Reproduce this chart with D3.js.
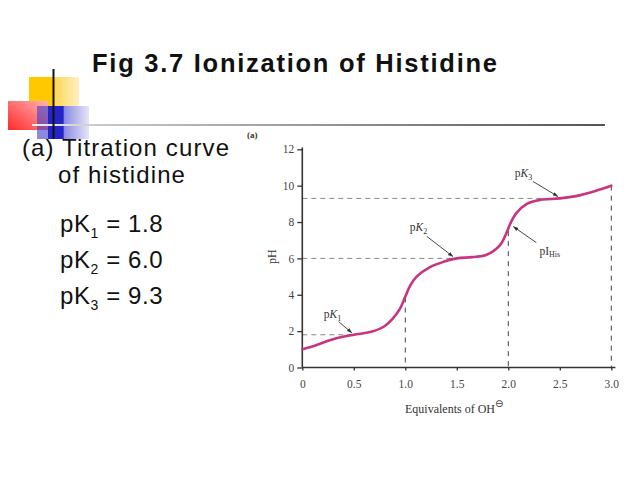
<!DOCTYPE html>
<html><head><meta charset="utf-8">
<script src="https://cdn.jsdelivr.net/npm/d3@7"></script>
<style>
html,body{margin:0;padding:0;background:#fff;}
svg{display:block;}
</style></head>
<body>
<svg id="chart" width="638" height="479"></svg>
<script>
// ---- data ----
const equivalentsOH = [0, 0.14, 0.3, 0.5, 0.66, 0.79, 0.88, 0.95, 1.0, 1.05, 1.11, 1.24, 1.37, 1.5, 1.65, 1.79, 1.92, 1.98, 2.02, 2.08, 2.18, 2.31, 2.5, 2.7, 2.89, 3.0];
const pHValues     = [1.0, 1.24, 1.56, 1.8, 1.95, 2.24, 2.7, 3.25, 3.9, 4.53, 5.0, 5.52, 5.81, 6.0, 6.07, 6.2, 6.73, 7.37, 7.92, 8.5, 9.0, 9.22, 9.3, 9.48, 9.79, 10.0];
const xTickValues = [0, 0.5, 1.0, 1.5, 2.0, 2.5, 3.0];
const xTickLabels = ["0", "0.5", "1.0", "1.5", "2.0", "2.5", "3.0"];
const yTickValues = [0, 2, 4, 6, 8, 10, 12];
const yTickLabels = ["0", "2", "4", "6", "8", "10", "12"];
const pKNames = ["1", "2", "3"];
const pKValues = [1.8, 6.0, 9.3];
const pKEquivalents = [0.5, 1.5, 2.5];
const endpointEquivalents = [1.0, 2.0, 3.0];
const endpointPH = [3.85, 7.5, 10.0];
const pIEquivalent = 2.03;
const pIpH = 7.8;
const titleText = "Fig 3.7 Ionization of Histidine";
const sideLines = ["(a) Titration curve", "of histidine"];

const svg = d3.select("#chart");
const defs = svg.append("defs");

// ---- decoration ----
function grad(id, stops, x2, y2, x1, y1) {
  const g = defs.append("linearGradient").attr("id", id)
    .attr("x1", x1 || "0%").attr("y1", y1 || "0%").attr("x2", x2).attr("y2", y2);
  stops.forEach(s => g.append("stop").attr("offset", s[0]).attr("stop-color", s[1]).attr("stop-opacity", s[2] == null ? 1 : s[2]));
}
grad("gYellow", [["0%", "#FFC800"], ["48%", "#FFC800"], ["52%", "#FFD75A"], ["100%", "#FFF0C0"]], "100%", "0%");
grad("gRed", [["0%", "#FF2A2A"], ["100%", "#FFB4B4"]], "100%", "0%", "0%", "100%");
grad("gBlue", [["0%", "#3C3CD0", 0.6], ["21%", "#3C3CD0", 0.6], ["22%", "#2424C8"], ["50%", "#2424C8"], ["53%", "#8C8CE2"], ["100%", "#E6E6F8"]], "100%", "0%");
grad("gRule", [["0%", "#EEEEEE"], ["12%", "#C8C8C8"], ["100%", "#555555"]], "100%", "0%");

svg.append("rect").attr("x", 29).attr("y", 77).attr("width", 50).attr("height", 30).attr("fill", "url(#gYellow)");
svg.append("rect").attr("x", 8).attr("y", 101).attr("width", 40).attr("height", 29).attr("fill", "url(#gRed)");
svg.append("rect").attr("x", 37).attr("y", 106).attr("width", 52).attr("height", 33).attr("fill", "url(#gBlue)");
svg.append("rect").attr("x", 32).attr("y", 124).attr("width", 573).attr("height", 2).attr("fill", "url(#gRule)");
svg.append("line").attr("x1", 53.5).attr("x2", 53.5).attr("y1", 69).attr("y2", 139).attr("stroke", "#111").attr("stroke-width", 2);

// ---- title & side text ----
const sans = "Liberation Sans, Arial, sans-serif";
function fitSpacing(sel, target) {
  const w = sel.node().getComputedTextLength();
  const n = sel.text().length;
  sel.attr("letter-spacing", ((target - w) / (n - 1)).toFixed(2));
}
const title = svg.append("text").attr("x", 92).attr("y", 72)
  .attr("font-family", sans).attr("font-weight", "bold").attr("font-size", 25.5)
  .attr("fill", "#111").text(titleText);
fitSpacing(title, 405);

const l1 = svg.append("text").attr("x", 22).attr("y", 156).attr("font-family", sans).attr("font-size", 24).attr("fill", "#111").text(sideLines[0]);
fitSpacing(l1, 207);
const l2 = svg.append("text").attr("x", 58).attr("y", 183).attr("font-family", sans).attr("font-size", 24).attr("fill", "#111").text(sideLines[1]);
fitSpacing(l2, 127);
pKNames.forEach((n, i) => {
  const t = svg.append("text").attr("x", 60).attr("y", 232 + i * 36).attr("font-family", sans).attr("font-size", 24)
    .attr("letter-spacing", 0.6).attr("fill", "#111");
  t.append("tspan").text("pK");
  t.append("tspan").attr("font-size", 14).attr("dy", 6).text(n);
  t.append("tspan").attr("dy", -6).text(" = " + pKValues[i].toFixed(1));
});

// ---- chart ----
const serif = "Liberation Serif, Times New Roman, serif";
const x = d3.scaleLinear().domain([0, 3]).range([302.3, 611.3]);
const y = d3.scaleLinear().domain([0, 12]).range([367.5, 149.3]);
const g = svg.append("g");

// dashed guides
const dashG = g.append("g").attr("fill", "none");
pKValues.forEach((v, i) => {
  dashG.append("line").attr("x1", x(0)).attr("x2", x(pKEquivalents[i])).attr("y1", y(v)).attr("y2", y(v))
    .attr("stroke", "#888").attr("stroke-width", 1).attr("stroke-dasharray", "5,4");
});
endpointEquivalents.forEach((e, i) => {
  dashG.append("line").attr("x1", x(e)).attr("x2", x(e)).attr("y1", y(endpointPH[i])).attr("y2", y(0))
    .attr("stroke", "#444").attr("stroke-width", 1).attr("stroke-dasharray", "5,5");
});

// axes
const xAxis = d3.axisBottom(x).tickValues(xTickValues).tickFormat((d, i) => xTickLabels[i]).tickSize(3).tickSizeOuter(0).tickPadding(9);
const yAxis = d3.axisLeft(y).tickValues(yTickValues).tickFormat((d, i) => yTickLabels[i]).tickSize(5).tickSizeOuter(0).tickPadding(3);
const gx = g.append("g").attr("transform", `translate(0,${y(0)})`).call(xAxis);
const gy = g.append("g").attr("transform", `translate(${x(0)},0)`).call(yAxis);
[gx, gy].forEach(a => {
  a.select(".domain").remove();
  a.selectAll(".tick line").attr("stroke", "#333").attr("stroke-width", 1.3);
  a.selectAll(".tick text").attr("font-family", serif).attr("font-size", 11.5).attr("fill", "#444");
});
g.append("line").attr("x1", x(0)).attr("x2", x(3.04)).attr("y1", y(0)).attr("y2", y(0)).attr("stroke", "#333").attr("stroke-width", 1.6);
g.append("line").attr("x1", x(0)).attr("x2", x(0)).attr("y1", y(12.1)).attr("y2", y(0)).attr("stroke", "#333").attr("stroke-width", 1.6);

// curve
const pts = equivalentsOH.map((e, i) => [e, pHValues[i]]);
g.append("path").datum(pts)
  .attr("d", d3.line().x(d => x(d[0])).y(d => y(d[1])).curve(d3.curveCatmullRom.alpha(0.5)))
  .attr("fill", "none").attr("stroke", "#C8347F").attr("stroke-width", 2.6).attr("stroke-linecap", "round");

// axis labels
svg.append("text").attr("x", 247).attr("y", 138).attr("font-family", serif).attr("font-weight", "bold").attr("font-size", 9).attr("fill", "#333").text("(a)");
svg.append("text").attr("transform", `translate(276,${y(6.1)}) rotate(-90)`).attr("text-anchor", "middle")
  .attr("font-family", serif).attr("font-size", 12).attr("fill", "#333").text("pH");
const xt = svg.append("text").attr("x", 405).attr("y", 413).attr("font-family", serif).attr("font-size", 12).attr("fill", "#333");
xt.append("tspan").text("Equivalents of OH");
xt.append("tspan").attr("font-family", "DejaVu Sans, sans-serif").attr("font-size", 10).attr("dy", -6).text("\u2296");

// annotations
defs.append("marker").attr("id", "arr").attr("viewBox", "0 0 10 10").attr("refX", 9).attr("refY", 5)
  .attr("markerWidth", 6).attr("markerHeight", 6).attr("orient", "auto")
  .append("path").attr("d", "M0,1.5 L10,5 L0,8.5 Z").attr("fill", "#333");

function pkLabel(px, py, sub) {
  const t = svg.append("text").attr("x", px).attr("y", py).attr("font-family", serif).attr("font-size", 11.5).attr("fill", "#333");
  t.append("tspan").text("p");
  t.append("tspan").attr("font-style", "italic").text("K");
  t.append("tspan").attr("font-size", 8).attr("dy", 3).text(sub);
}
function arrow(x1, y1, tx, ty) {
  svg.append("line").attr("x1", x1).attr("y1", y1).attr("x2", tx).attr("y2", ty)
    .attr("stroke", "#333").attr("stroke-width", 0.9).attr("marker-end", "url(#arr)");
}
// pK1
pkLabel(x(pKEquivalents[0]) - 30, y(pKValues[0]) - 17, pKNames[0]);
arrow(x(pKEquivalents[0]) - 15, y(pKValues[0]) - 13, x(pKEquivalents[0]) - 2, y(pKValues[0]) - 2);
// pK2
pkLabel(x(pKEquivalents[1]) - 47, y(pKValues[1]) - 27, pKNames[1]);
arrow(x(pKEquivalents[1]) - 30, y(pKValues[1]) - 22, x(pKEquivalents[1]) - 4, y(pKValues[1]) - 2);
// pK3
pkLabel(x(pKEquivalents[2]) - 45, y(pKValues[2]) - 21, pKNames[2]);
arrow(x(pKEquivalents[2]) - 27, y(pKValues[2]) - 17, x(pKEquivalents[2]) - 2, y(pKValues[2]) - 2);
// pI
const pit = svg.append("text").attr("x", x(pIEquivalent) + 28).attr("y", y(pIpH) + 29).attr("font-family", serif).attr("font-size", 11.5).attr("fill", "#333");
pit.append("tspan").text("pI");
pit.append("tspan").attr("font-size", 8).attr("dy", 2).text("His");
arrow(x(pIEquivalent) + 25, y(pIpH) + 17, x(pIEquivalent) + 2, y(pIpH) + 1);
</script>
</body></html>
